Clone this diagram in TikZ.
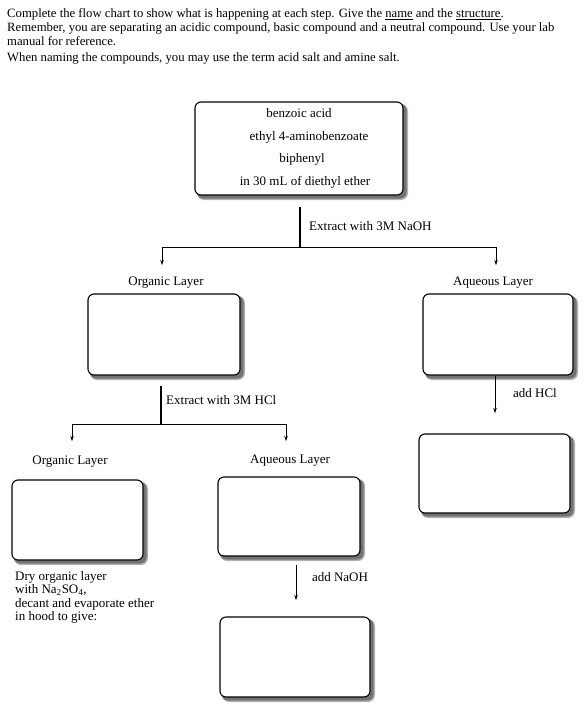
\documentclass[tikz,border=0pt]{standalone}
\usepackage{fontspec}
\setmainfont{Liberation Serif}
\usetikzlibrary{arrows.meta}
\begin{document}
\begin{tikzpicture}[x=1pt,y=-1pt,
  boxstyle/.style={draw=black, line width=1.1pt, rounded corners=6pt, fill=white},
  shadowbox/.style={fill=black!30, rounded corners=7pt},
  shadowcore/.style={fill=black!55, rounded corners=6pt},
  hdr/.style={anchor=base west, inner sep=0pt, font=\fontsize{12.7}{14}\selectfont},
  lbl/.style={inner sep=0pt, font=\fontsize{13}{13}\selectfont},
  thickln/.style={line width=1.3pt},
  arr/.style={line width=0.6pt, -{Stealth[length=5pt,width=3.5pt]}},
  thinln/.style={line width=0.8pt}]
\useasboundingbox[fill=white] (0,0) rectangle (584,706);

% header
\node[hdr] (h1) at (7,18) {Complete the flow chart to show what is happening at each step. Give the \underline{name} and the \underline{structure}.};
\node[hdr] (h2) at (7,32) {Remember, you are separating an acidic compound, basic compound and a neutral compound.  Use your lab};
\node[hdr] (h3) at (7,46) {manual for reference.};
\node[hdr] (h4) at (7,62) {When naming the compounds, you may use the term acid salt and amine salt.};

% box shadows
\foreach \a/\b/\c/\d in {195/102/403/195, 88/294/240/375, 423/294/573/375, 419/434/570/513, 12/480/143/560, 218/477/360/556, 220/617/370/697}{
  \fill[shadowbox] (\a+2,\b+2) rectangle (\c+5,\d+5);
  \fill[shadowcore] (\a+2,\b+2) rectangle (\c+3.5,\d+3.5);
}
\draw[boxstyle] (195,102) rectangle (403,195);
\node[lbl] (t1) at (299,113) {benzoic acid};
\node[lbl] (t2) at (309,137) {ethyl 4-aminobenzoate};
\node[lbl] (t3) at (302,159) {biphenyl};
\node[lbl] (t4) at (305,182) {in 30 mL of diethyl ether};

% first extraction
\coordinate (e1a) at (300,207);
\coordinate (e1b) at (300,247);
\draw[thickln] (e1a) -- (e1b);
\node[lbl, anchor=west] (e1l) at (309,226) {Extract with 3M NaOH};
\coordinate (s1l) at (162,247);
\coordinate (s1r) at (496,247);
\draw[thinln] (s1l) -- (s1r);
\coordinate (a1l) at (162,265);
\coordinate (a1r) at (496,265);
\draw[arr] (s1l) -- (a1l);
\draw[arr] (s1r) -- (a1r);
\node[lbl] (ol1) at (166,283) {Organic Layer};
\node[lbl] (aq1) at (493,283) {Aqueous Layer};

% second row boxes
\draw[boxstyle] (88,294) rectangle (240,375);
\draw[boxstyle] (423,294) rectangle (573,375);

% add HCl branch
\coordinate (h1a) at (495,376);
\coordinate (h1b) at (495,413);
\draw[arr] (h1a) -- (h1b);
\node[lbl] (hcl) at (535,393) {add HCl};
\draw[boxstyle] (419,434) rectangle (570,513);

% second extraction
\coordinate (e2a) at (161,386);
\coordinate (e2b) at (161,424);
\draw[thickln] (e2a) -- (e2b);
\node[lbl, anchor=west] (e2l) at (166,400) {Extract with 3M HCl};
\coordinate (s2l) at (72,424);
\coordinate (s2r) at (286,424);
\draw[thinln] (s2l) -- (s2r);
\coordinate (a2l) at (72,441);
\coordinate (a2r) at (286,441);
\draw[arr] (s2l) -- (a2l);
\draw[arr] (s2r) -- (a2r);
\node[lbl] (ol2) at (70,462) {Organic Layer};
\node[lbl] (aq2) at (290,461) {Aqueous Layer};

% third row boxes
\draw[boxstyle] (12,480) rectangle (143,560);
\draw[boxstyle] (218,477) rectangle (360,556);

% dry text
\node[lbl, anchor=north west, align=left, font=\fontsize{13}{13.5}\selectfont] (dry) at (15,571)
 {Dry organic layer\\with Na\textsubscript{2}SO\textsubscript{4},\\decant and evaporate ether\\in hood to give:};

% add NaOH
\coordinate (n1a) at (296,565);
\coordinate (n1b) at (296,600);
\draw[arr] (n1a) -- (n1b);
\node[lbl] (naoh) at (340,577) {add NaOH};
\draw[boxstyle] (220,617) rectangle (370,697);
\end{tikzpicture}
\end{document}
